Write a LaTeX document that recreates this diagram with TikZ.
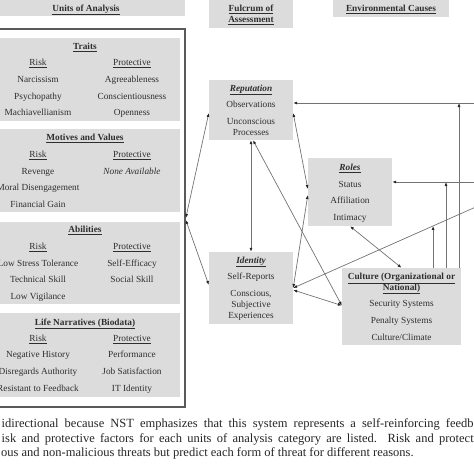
\documentclass[tikz,border=0pt]{standalone}
\usepackage{fontspec}
\setmainfont{Liberation Serif}
\usetikzlibrary{arrows.meta,calc}
\definecolor{panelgray}{HTML}{DCDCDC}
\definecolor{inkgray}{HTML}{2E2E2E}
\definecolor{linegray}{HTML}{737373}
\definecolor{framegray}{HTML}{5A5A5A}
\tikzset{
  panel/.style={fill=panelgray, draw=none, inner sep=0pt},
  txt/.style={inner sep=0pt, text=inkgray, text height=6.5pt, text depth=2pt, font=\fontsize{9.3}{11}\selectfont},
  ttl/.style={txt, font=\fontsize{9.3}{11}\selectfont\bfseries},
  captxt/.style={inner sep=0pt, anchor=base west, text=black!85, font=\fontsize{12.5}{14.5}\selectfont},
  arr/.style={draw=linegray, line width=0.7pt, -{Latex[length=4pt,width=3pt,color=black!85]}},
  biarr/.style={arr, {Latex[length=4pt,width=3pt,color=black!85]}-{Latex[length=4pt,width=3pt,color=black!85]}}
}
\begin{document}
\begin{tikzpicture}[x=1pt,y=-1pt]
\useasboundingbox (0,0) rectangle (474,474);
\clip (0,0) rectangle (474,474);
% column headers
\node[panel, minimum width=198pt, minimum height=20pt] (unitsHead) at (86,6) {};
\node[panel, minimum width=84pt, minimum height=32pt] (fulcrumHead) at (251,12) {};
\node[panel, minimum width=116pt, minimum height=21pt] (envHead) at (391,6.5) {};
\node[ttl] (unitsTitle) at (86,9) {\underline{Units of Analysis}};
\node[ttl] (fulcrumTitleA) at (251,9) {\underline{Fulcrum of}};
\node[ttl] (fulcrumTitleB) at (251,20) {\underline{Assessment}};
\node[ttl] (envTitle) at (391,9) {\underline{Environmental Causes}};
% units of analysis
\node[draw=framegray, line width=1.6pt, minimum width=200pt, minimum height=378pt, inner sep=0pt] (units) at (85,218) {};
\node[panel, minimum width=190pt, minimum height=83pt] (traits) at (85,79.5) {};
\node[panel, minimum width=190pt, minimum height=83pt] (motives) at (85,170.5) {};
\node[panel, minimum width=190pt, minimum height=82pt] (abilities) at (85,263) {};
\node[panel, minimum width=190pt, minimum height=84pt] (narratives) at (85,355) {};
% traits
\node[ttl] (trTitle) at (85,47) {\underline{Traits}};
\node[txt] (trRisk) at (38,63) {\underline{Risk}};
\node[txt] (trProt) at (132,63) {\underline{Protective}};
\node[txt] (trRiskA) at (38,80) {Narcissism};
\node[txt] (trRiskB) at (38,97) {Psychopathy};
\node[txt] (trRiskC) at (38,113) {Machiavellianism};
\node[txt] (trProtA) at (132,80) {Agreeableness};
\node[txt] (trProtB) at (132,97) {Conscientiousness};
\node[txt] (trProtC) at (132,113) {Openness};
% motives and values
\node[ttl] (mvTitle) at (85,138) {\underline{Motives and Values}};
\node[txt] (mvRisk) at (38,155) {\underline{Risk}};
\node[txt] (mvProt) at (132,155) {\underline{Protective}};
\node[txt] (mvRiskA) at (38,172) {Revenge};
\node[txt] (mvRiskB) at (38,188) {Moral Disengagement};
\node[txt] (mvRiskC) at (38,205) {Financial Gain};
\node[txt] (mvProtA) at (132,172) {\itshape None Available};
% abilities
\node[ttl] (abTitle) at (85,230) {\underline{Abilities}};
\node[txt] (abRisk) at (38,247) {\underline{Risk}};
\node[txt] (abProt) at (132,247) {\underline{Protective}};
\node[txt] (abRiskA) at (38,264) {Low Stress Tolerance};
\node[txt] (abRiskB) at (38,280) {Technical Skill};
\node[txt] (abRiskC) at (38,297) {Low Vigilance};
\node[txt] (abProtA) at (132,264) {Self-Efficacy};
\node[txt] (abProtB) at (132,280) {Social Skill};
% life narratives
\node[ttl] (lnTitle) at (85,323) {\underline{Life Narratives (Biodata)}};
\node[txt] (lnRisk) at (38,339) {\underline{Risk}};
\node[txt] (lnProt) at (132,339) {\underline{Protective}};
\node[txt] (lnRiskA) at (38,355) {Negative History};
\node[txt] (lnRiskB) at (38,372) {Disregards Authority};
\node[txt] (lnRiskC) at (38,389) {Resistant to Feedback};
\node[txt] (lnProtA) at (132,355) {Performance};
\node[txt] (lnProtB) at (132,372) {Job Satisfaction};
\node[txt] (lnProtC) at (132,389) {IT Identity};
% fulcrum and environment
\node[panel, minimum width=84pt, minimum height=60pt] (reputation) at (251,110) {};
\node[panel, minimum width=84pt, minimum height=68pt] (roles) at (350,192) {};
\node[panel, minimum width=84pt, minimum height=72pt] (identity) at (251,288) {};
\node[panel, minimum width=119pt, minimum height=77pt] (culture) at (401.5,306.5) {};
\node[ttl] (repTitle) at (251,89) {\itshape\underline{Reputation}};
\node[txt] (repA) at (251,105) {Observations};
\node[txt] (repB) at (251,122) {Unconscious};
\node[txt] (repC) at (251,133) {Processes};
\node[ttl] (rolTitle) at (350,168) {\itshape\underline{Roles}};
\node[txt] (rolA) at (350,185) {Status};
\node[txt] (rolB) at (350,201) {Affiliation};
\node[txt] (rolC) at (350,218) {Intimacy};
\node[ttl] (idTitle) at (251,261) {\itshape\underline{Identity}};
\node[txt] (idA) at (251,277) {Self-Reports};
\node[txt] (idB) at (251,294) {Conscious,};
\node[txt] (idC) at (251,305) {Subjective};
\node[txt] (idD) at (251,316) {Experiences};
\node[ttl] (cuTitleA) at (401.5,277) {\underline{Culture (Organizational or}};
\node[ttl] (cuTitleB) at (401.5,288) {\underline{National)}};
\node[txt] (cuA) at (401.5,304) {Security Systems};
\node[txt] (cuB) at (401.5,321) {Penalty Systems};
\node[txt] (cuC) at (401.5,338) {Culture/Climate};
% connectors
\coordinate (edgeA) at (478,103);
\coordinate (edgeB) at (478,182);
\coordinate (edgeC) at (478,206);
\coordinate (tapA) at (459,103);
\coordinate (tapB) at (446,182);
\coordinate (tapC) at ($(identity.east)!0.757!(edgeC)$);
\draw[biarr] (units.east) -- ([yshift=-3pt]reputation.west);
\draw[biarr] ([yshift=-2pt]units.east) -- ([yshift=3pt]identity.west);
\draw[biarr] (reputation.south) -- (identity.north);
\draw[biarr] ([xshift=2pt]reputation.south) -- ([yshift=1pt]culture.west);
\draw[biarr] ([yshift=-3pt]reputation.east) -- ([yshift=3pt]roles.west);
\draw[biarr] (identity.east) -- ([yshift=-3pt]roles.west);
\draw[biarr] ([yshift=-2pt]identity.east) -- ([yshift=1pt]culture.west);
\draw[biarr] (roles.south) -- (culture.north);
\draw[biarr] (identity.east) -- (edgeC);
\draw[biarr] ([yshift=7pt]reputation.east) -- (edgeA);
\draw[biarr] ([yshift=10pt]roles.east) -- (edgeB);
\draw[arr] (tapA |- culture.north) -- (tapA);
\draw[arr] (tapB |- culture.north) -- (tapB);
\draw[arr] (tapC |- culture.north) -- (tapC);
% caption
\node[captxt] (capA) at (1.5,427.5) {\makebox[472pt][s]{idirectional because NST emphasizes that this system represents a self-reinforcing feedb}};
\node[captxt] (capB) at (1.5,442.5) {\makebox[472pt][s]{isk and protective factors for each units of analysis category are listed. Risk and protect}};
\node[captxt] (capC) at (1,456.5) {ous and non-malicious threats but predict each form of threat for different reasons.};
\end{tikzpicture}
\end{document}
